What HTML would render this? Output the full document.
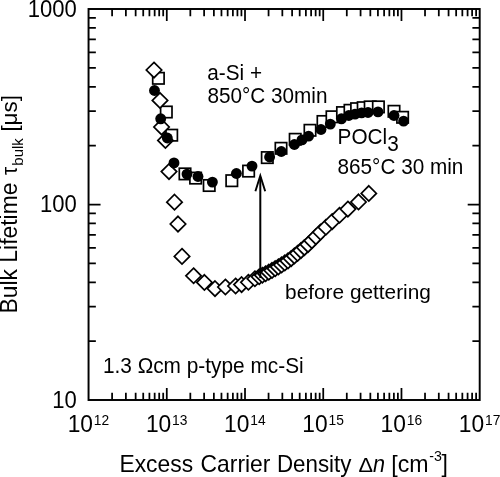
<!DOCTYPE html><html><head><meta charset="utf-8"><style>html,body{margin:0;padding:0;background:#fff}svg{display:block}text{font-family:"Liberation Sans",Arial,Helvetica,sans-serif;fill:#000}</style></head><body>
<svg width="500" height="477" viewBox="0 0 500 477">
<rect width="500" height="477" fill="#fff"/>
<path d="M112.10 400.0v-7.3M112.10 9.0v7.3M125.88 400.0v-7.3M125.88 9.0v7.3M135.65 400.0v-7.3M135.65 9.0v7.3M143.23 400.0v-7.3M143.23 9.0v7.3M149.42 400.0v-7.3M149.42 9.0v7.3M154.66 400.0v-7.3M154.66 9.0v7.3M159.20 400.0v-7.3M159.20 9.0v7.3M163.20 400.0v-7.3M163.20 9.0v7.3M166.78 400.0v-12M166.78 9.0v12M190.33 400.0v-7.3M190.33 9.0v7.3M204.11 400.0v-7.3M204.11 9.0v7.3M213.88 400.0v-7.3M213.88 9.0v7.3M221.46 400.0v-7.3M221.46 9.0v7.3M227.65 400.0v-7.3M227.65 9.0v7.3M232.89 400.0v-7.3M232.89 9.0v7.3M237.43 400.0v-7.3M237.43 9.0v7.3M241.43 400.0v-7.3M241.43 9.0v7.3M245.01 400.0v-12M245.01 9.0v12M268.56 400.0v-7.3M268.56 9.0v7.3M282.34 400.0v-7.3M282.34 9.0v7.3M292.11 400.0v-7.3M292.11 9.0v7.3M299.69 400.0v-7.3M299.69 9.0v7.3M305.88 400.0v-7.3M305.88 9.0v7.3M311.12 400.0v-7.3M311.12 9.0v7.3M315.66 400.0v-7.3M315.66 9.0v7.3M319.66 400.0v-7.3M319.66 9.0v7.3M323.24 400.0v-12M323.24 9.0v12M346.79 400.0v-7.3M346.79 9.0v7.3M360.57 400.0v-7.3M360.57 9.0v7.3M370.34 400.0v-7.3M370.34 9.0v7.3M377.92 400.0v-7.3M377.92 9.0v7.3M384.11 400.0v-7.3M384.11 9.0v7.3M389.35 400.0v-7.3M389.35 9.0v7.3M393.89 400.0v-7.3M393.89 9.0v7.3M397.89 400.0v-7.3M397.89 9.0v7.3M401.47 400.0v-12M401.47 9.0v12M425.02 400.0v-7.3M425.02 9.0v7.3M438.80 400.0v-7.3M438.80 9.0v7.3M448.57 400.0v-7.3M448.57 9.0v7.3M456.15 400.0v-7.3M456.15 9.0v7.3M462.34 400.0v-7.3M462.34 9.0v7.3M467.58 400.0v-7.3M467.58 9.0v7.3M472.12 400.0v-7.3M472.12 9.0v7.3M476.12 400.0v-7.3M476.12 9.0v7.3M88.55 341.15h7.3M479.7 341.15h-7.3M88.55 306.72h7.3M479.7 306.72h-7.3M88.55 282.30h7.3M479.7 282.30h-7.3M88.55 263.35h7.3M479.7 263.35h-7.3M88.55 247.87h7.3M479.7 247.87h-7.3M88.55 234.78h7.3M479.7 234.78h-7.3M88.55 223.45h7.3M479.7 223.45h-7.3M88.55 213.45h7.3M479.7 213.45h-7.3M88.55 204.50h12M479.7 204.50h-12M88.55 145.65h7.3M479.7 145.65h-7.3M88.55 111.22h7.3M479.7 111.22h-7.3M88.55 86.80h7.3M479.7 86.80h-7.3M88.55 67.85h7.3M479.7 67.85h-7.3M88.55 52.37h7.3M479.7 52.37h-7.3M88.55 39.28h7.3M479.7 39.28h-7.3M88.55 27.95h7.3M479.7 27.95h-7.3M88.55 17.95h7.3M479.7 17.95h-7.3" stroke="#000" stroke-width="1.75" fill="none"/>
<rect x="88.55" y="9.0" width="391.15" height="391.0" fill="none" stroke="#000" stroke-width="1.95"/>
<rect x="152.7" y="72.6" width="11.4" height="11.4" fill="#fff" stroke="#000" stroke-width="1.7"/>
<rect x="160.6" y="106.3" width="11.4" height="11.4" fill="#fff" stroke="#000" stroke-width="1.7"/>
<rect x="166.0" y="129.5" width="11.4" height="11.4" fill="#fff" stroke="#000" stroke-width="1.7"/>
<rect x="179.3" y="168.2" width="11.4" height="11.4" fill="#fff" stroke="#000" stroke-width="1.7"/>
<rect x="189.9" y="172.4" width="11.4" height="11.4" fill="#fff" stroke="#000" stroke-width="1.7"/>
<rect x="203.5" y="179.8" width="11.4" height="11.4" fill="#fff" stroke="#000" stroke-width="1.7"/>
<rect x="226.1" y="175.0" width="11.4" height="11.4" fill="#fff" stroke="#000" stroke-width="1.7"/>
<rect x="242.9" y="165.4" width="11.4" height="11.4" fill="#fff" stroke="#000" stroke-width="1.7"/>
<rect x="261.6" y="151.9" width="11.4" height="11.4" fill="#fff" stroke="#000" stroke-width="1.7"/>
<rect x="275.3" y="142.6" width="11.4" height="11.4" fill="#fff" stroke="#000" stroke-width="1.7"/>
<rect x="289.5" y="133.6" width="11.4" height="11.4" fill="#fff" stroke="#000" stroke-width="1.7"/>
<rect x="304.3" y="124.6" width="11.4" height="11.4" fill="#fff" stroke="#000" stroke-width="1.7"/>
<rect x="317.3" y="115.8" width="11.4" height="11.4" fill="#fff" stroke="#000" stroke-width="1.7"/>
<rect x="326.3" y="111.1" width="11.4" height="11.4" fill="#fff" stroke="#000" stroke-width="1.7"/>
<rect x="336.8" y="106.9" width="11.4" height="11.4" fill="#fff" stroke="#000" stroke-width="1.7"/>
<rect x="344.3" y="104.6" width="11.4" height="11.4" fill="#fff" stroke="#000" stroke-width="1.7"/>
<rect x="350.9" y="103.0" width="11.4" height="11.4" fill="#fff" stroke="#000" stroke-width="1.7"/>
<rect x="357.5" y="102.0" width="11.4" height="11.4" fill="#fff" stroke="#000" stroke-width="1.7"/>
<rect x="364.5" y="101.2" width="11.4" height="11.4" fill="#fff" stroke="#000" stroke-width="1.7"/>
<rect x="372.7" y="101.2" width="11.4" height="11.4" fill="#fff" stroke="#000" stroke-width="1.7"/>
<rect x="388.3" y="105.6" width="11.4" height="11.4" fill="#fff" stroke="#000" stroke-width="1.7"/>
<rect x="396.9" y="111.6" width="11.4" height="11.4" fill="#fff" stroke="#000" stroke-width="1.7"/>
<path d="M154.0 62.4L161.7 70.0L154.0 77.7L146.3 70.0Z" fill="#fff" stroke="#000" stroke-width="1.7"/>
<path d="M160.0 92.8L167.7 100.4L160.0 108.1L152.3 100.4Z" fill="#fff" stroke="#000" stroke-width="1.7"/>
<path d="M161.6 119.3L169.2 127.0L161.6 134.7L153.9 127.0Z" fill="#fff" stroke="#000" stroke-width="1.7"/>
<path d="M165.4 132.8L173.1 140.4L165.4 148.1L157.8 140.4Z" fill="#fff" stroke="#000" stroke-width="1.7"/>
<path d="M169.0 163.9L176.7 171.6L169.0 179.2L161.3 171.6Z" fill="#fff" stroke="#000" stroke-width="1.7"/>
<path d="M174.5 194.5L182.2 202.2L174.5 209.8L166.8 202.2Z" fill="#fff" stroke="#000" stroke-width="1.7"/>
<path d="M178.0 216.3L185.7 224.0L178.0 231.7L170.3 224.0Z" fill="#fff" stroke="#000" stroke-width="1.7"/>
<path d="M182.0 248.7L189.7 256.4L182.0 264.0L174.3 256.4Z" fill="#fff" stroke="#000" stroke-width="1.7"/>
<path d="M193.6 268.2L201.2 275.8L193.6 283.4L185.9 275.8Z" fill="#fff" stroke="#000" stroke-width="1.7"/>
<path d="M204.4 274.8L212.1 282.4L204.4 290.0L196.8 282.4Z" fill="#fff" stroke="#000" stroke-width="1.7"/>
<path d="M215.0 281.0L222.7 288.6L215.0 296.2L207.3 288.6Z" fill="#fff" stroke="#000" stroke-width="1.7"/>
<path d="M225.4 279.4L233.1 287.0L225.4 294.6L217.8 287.0Z" fill="#fff" stroke="#000" stroke-width="1.7"/>
<path d="M235.6 278.4L243.2 286.0L235.6 293.6L227.9 286.0Z" fill="#fff" stroke="#000" stroke-width="1.7"/>
<path d="M241.6 277.0L249.2 284.6L241.6 292.2L233.9 284.6Z" fill="#fff" stroke="#000" stroke-width="1.7"/>
<path d="M248.4 274.7L256.1 282.3L248.4 289.9L240.8 282.3Z" fill="#fff" stroke="#000" stroke-width="1.7"/>
<path d="M254.9 271.1L262.6 278.8L254.9 286.4L247.2 278.8Z" fill="#fff" stroke="#000" stroke-width="1.7"/>
<path d="M259.2 269.1L266.8 276.8L259.2 284.4L251.5 276.8Z" fill="#fff" stroke="#000" stroke-width="1.7"/>
<path d="M262.4 267.6L270.0 275.2L262.4 282.9L254.7 275.2Z" fill="#fff" stroke="#000" stroke-width="1.7"/>
<path d="M265.6 266.1L273.2 273.7L265.6 281.4L257.9 273.7Z" fill="#fff" stroke="#000" stroke-width="1.7"/>
<path d="M268.8 264.5L276.4 272.2L268.8 279.8L261.1 272.2Z" fill="#fff" stroke="#000" stroke-width="1.7"/>
<path d="M272.0 262.8L279.6 270.5L272.0 278.1L264.3 270.5Z" fill="#fff" stroke="#000" stroke-width="1.7"/>
<path d="M275.2 261.0L282.8 268.7L275.2 276.3L267.5 268.7Z" fill="#fff" stroke="#000" stroke-width="1.7"/>
<path d="M278.4 259.2L286.0 266.9L278.4 274.5L270.7 266.9Z" fill="#fff" stroke="#000" stroke-width="1.7"/>
<path d="M281.6 257.3L289.2 265.0L281.6 272.6L273.9 265.0Z" fill="#fff" stroke="#000" stroke-width="1.7"/>
<path d="M284.8 255.3L292.4 263.0L284.8 270.6L277.1 263.0Z" fill="#fff" stroke="#000" stroke-width="1.7"/>
<path d="M288.0 253.3L295.6 260.9L288.0 268.6L280.3 260.9Z" fill="#fff" stroke="#000" stroke-width="1.7"/>
<path d="M291.2 250.9L298.8 258.5L291.2 266.2L283.5 258.5Z" fill="#fff" stroke="#000" stroke-width="1.7"/>
<path d="M294.4 248.3L302.0 255.9L294.4 263.6L286.7 255.9Z" fill="#fff" stroke="#000" stroke-width="1.7"/>
<path d="M297.6 245.7L305.2 253.3L297.6 261.0L289.9 253.3Z" fill="#fff" stroke="#000" stroke-width="1.7"/>
<path d="M300.9 242.9L308.6 250.5L300.9 258.2L293.3 250.5Z" fill="#fff" stroke="#000" stroke-width="1.7"/>
<path d="M304.4 239.9L312.1 247.6L304.4 255.2L296.8 247.6Z" fill="#fff" stroke="#000" stroke-width="1.7"/>
<path d="M308.0 236.9L315.7 244.5L308.0 252.2L300.4 244.5Z" fill="#fff" stroke="#000" stroke-width="1.7"/>
<path d="M311.9 233.1L319.5 240.7L311.9 248.4L304.2 240.7Z" fill="#fff" stroke="#000" stroke-width="1.7"/>
<path d="M315.9 229.1L323.5 236.7L315.9 244.4L308.2 236.7Z" fill="#fff" stroke="#000" stroke-width="1.7"/>
<path d="M320.5 224.5L328.1 232.1L320.5 239.8L312.8 232.1Z" fill="#fff" stroke="#000" stroke-width="1.7"/>
<path d="M325.9 219.6L333.6 227.3L325.9 234.9L318.3 227.3Z" fill="#fff" stroke="#000" stroke-width="1.7"/>
<path d="M332.2 213.9L339.9 221.5L332.2 229.2L324.6 221.5Z" fill="#fff" stroke="#000" stroke-width="1.7"/>
<path d="M339.5 207.6L347.2 215.3L339.5 222.9L331.9 215.3Z" fill="#fff" stroke="#000" stroke-width="1.7"/>
<path d="M347.9 201.4L355.6 209.1L347.9 216.7L340.3 209.1Z" fill="#fff" stroke="#000" stroke-width="1.7"/>
<path d="M358.5 194.3L366.1 202.0L358.5 209.6L350.9 202.0Z" fill="#fff" stroke="#000" stroke-width="1.7"/>
<path d="M368.8 185.8L376.4 193.4L368.8 201.1L361.2 193.4Z" fill="#fff" stroke="#000" stroke-width="1.7"/>
<path d="M260.3 278V177" stroke="#000" stroke-width="2" fill="none"/>
<path d="M255.4 191.3L260.3 175.6L265.2 191.3" stroke="#000" stroke-width="1.9" fill="none" stroke-linejoin="miter"/>
<circle cx="154.5" cy="90.5" r="5.45" fill="#000"/>
<circle cx="160.7" cy="118.8" r="5.45" fill="#000"/>
<circle cx="167.3" cy="138.0" r="5.45" fill="#000"/>
<circle cx="174" cy="162.9" r="5.45" fill="#000"/>
<circle cx="187" cy="174.1" r="5.45" fill="#000"/>
<circle cx="198" cy="176.5" r="5.45" fill="#000"/>
<circle cx="212.4" cy="182.1" r="5.45" fill="#000"/>
<circle cx="236.4" cy="173.5" r="5.45" fill="#000"/>
<circle cx="252" cy="166.1" r="5.45" fill="#000"/>
<circle cx="269.6" cy="157.0" r="5.45" fill="#000"/>
<circle cx="281.3" cy="151.5" r="5.45" fill="#000"/>
<circle cx="294.4" cy="144.5" r="5.45" fill="#000"/>
<circle cx="302" cy="139.9" r="5.45" fill="#000"/>
<circle cx="308.6" cy="136.1" r="5.45" fill="#000"/>
<circle cx="321" cy="129.5" r="5.45" fill="#000"/>
<circle cx="330.3" cy="124.1" r="5.45" fill="#000"/>
<circle cx="341.4" cy="118.8" r="5.45" fill="#000"/>
<circle cx="348.8" cy="115.5" r="5.45" fill="#000"/>
<circle cx="355" cy="114.1" r="5.45" fill="#000"/>
<circle cx="361.6" cy="112.9" r="5.45" fill="#000"/>
<circle cx="368" cy="112.5" r="5.45" fill="#000"/>
<circle cx="378" cy="111.9" r="5.45" fill="#000"/>
<circle cx="394" cy="115.5" r="5.45" fill="#000"/>
<circle cx="403.6" cy="121.1" r="5.45" fill="#000"/>
<g font-size="23.3px" text-anchor="end">
<text transform="translate(76.9 16.6) scale(0.947 1)">1000</text>
<text transform="translate(76.9 212.4) scale(0.947 1)">100</text>
<text transform="translate(76.9 408) scale(0.947 1)">10</text>
</g>
<text transform="translate(67.7 432.2) scale(0.97 1)" font-size="23.5px">10</text><text x="93.8" y="425" font-size="13.8px">12</text>
<text transform="translate(145.9 432.2) scale(0.97 1)" font-size="23.5px">10</text><text x="172.1" y="425" font-size="13.8px">13</text>
<text transform="translate(224.1 432.2) scale(0.97 1)" font-size="23.5px">10</text><text x="250.3" y="425" font-size="13.8px">14</text>
<text transform="translate(302.3 432.2) scale(0.97 1)" font-size="23.5px">10</text><text x="328.5" y="425" font-size="13.8px">15</text>
<text transform="translate(380.6 432.2) scale(0.97 1)" font-size="23.5px">10</text><text x="406.8" y="425" font-size="13.8px">16</text>
<text transform="translate(458.8 432.2) scale(0.97 1)" font-size="23.5px">10</text><text x="485.0" y="425" font-size="13.8px">17</text>
<g font-size="23px">
<text transform="translate(119.4 471.5) scale(0.994 1)">Excess</text>
<text transform="translate(200.6 471.5) scale(0.994 1)">Carrier</text>
<text transform="translate(277.0 471.5) scale(0.971 1)">Density</text>
<text transform="translate(358.4 471.6) scale(1.055 1)" font-size="20.6px">Δ</text>
<text transform="translate(373.0 471.6) scale(0.94 1)" font-style="italic">n</text>
<text transform="translate(391.3 471.7) scale(1.007 1)">[cm</text>
<text transform="translate(429.2 461.2) scale(1.0 1)" font-size="14.2px">-3</text>
<text transform="translate(441.4 471.7) scale(1.0 1)">]</text>
<text transform="translate(17.0 313.5) rotate(-90) scale(0.995 1)" font-size="23px">Bulk Lifetime</text>
<text transform="translate(17.0 175.0) rotate(-90) scale(0.95 1)" font-size="22px">τ</text>
<text transform="translate(22.7 165.7) rotate(-90) scale(0.97 1)" font-size="15.5px">bulk</text>
<text transform="translate(16.5 131.6) rotate(-90) scale(0.99 1)" font-size="22.6px">[μs]</text>
</g>
<g font-size="21.7px">
<text transform="translate(207.3 79.6) scale(0.956 1)">a-Si +</text>
<text transform="translate(207.4 102.5) scale(0.956 1)">850°C 30min</text>
<text transform="translate(337.6 144.0) scale(0.956 1)">POCl<tspan dy="6.5">3</tspan></text>
<text transform="translate(337.5 173.7) scale(0.956 1)">865°C 30 min</text>
<text transform="translate(285.1 299.4) scale(1.001 1)" font-size="20.8px">before gettering</text>
<text transform="translate(102.9 372.6) scale(0.96 1)">1.3 Ωcm p-type mc-Si</text>
</g>
</svg></body></html>
